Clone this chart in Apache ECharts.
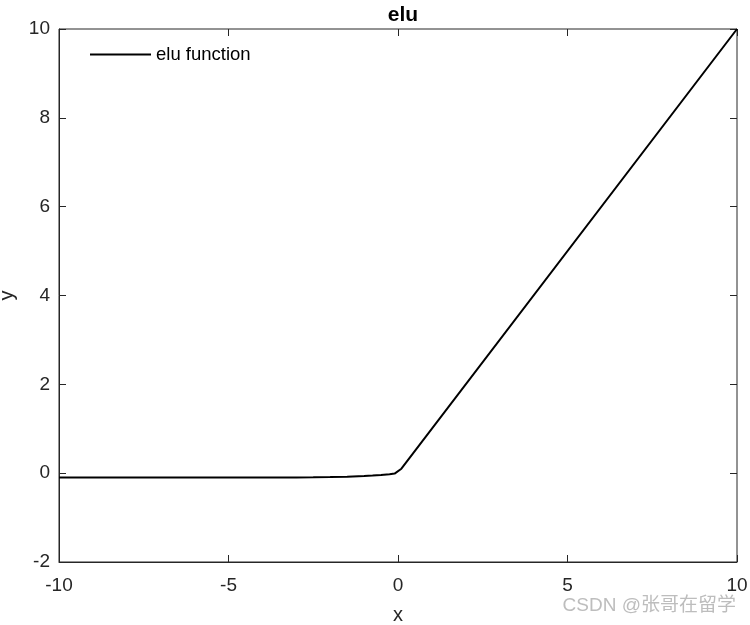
<!DOCTYPE html>
<html>
<head>
<meta charset="utf-8">
<script src="https://cdn.jsdelivr.net/npm/echarts@6/dist/echarts.min.js"></script>
<style>html,body{margin:0;padding:0;background:#fff}#c{width:750px;height:625px}</style>
</head>
<body>
<div id="c"></div>
<script>
var xValues = [-10, -9, -8, -7, -6, -5, -4, -3, -2.5, -2, -1.5, -1, -0.75, -0.5, -0.25, -0.1, 0.1, 10];
var yValues = [-0.1, -0.1, -0.1, -0.1, -0.1, -0.099, -0.098, -0.095, -0.092, -0.086, -0.078, -0.063, -0.053, -0.039, -0.022, -0.0095, 0.1, 10];
var seriesName = 'elu function';
var titleText = 'elu';
var xLabel = 'x';
var yLabel = 'y';
var watermark = 'CSDN @张哥在留学';

var pts = xValues.map(function (x, i) { return [x, yValues[i]]; });
var font = 'Liberation Sans, Arial, sans-serif';
var axCol = '#262626';
var chart = echarts.init(document.getElementById('c'));
chart.setOption({
  animation: false,
  backgroundColor: '#fff',
  title: { text: titleText, left: 398, top: 0, textAlign: 'center',
    textStyle: { fontFamily: font, fontSize: 21, fontWeight: 'bold', color: '#000' } },
  legend: { left: 85, top: 40, icon: 'rect', itemWidth: 61, itemHeight: 2, itemGap: 6,
    textStyle: { fontFamily: font, fontSize: 18.5, color: '#000' },
    data: [seriesName] },
  grid: { left: 59, right: 13, top: 29, bottom: 63, show: true, borderColor: axCol, borderWidth: 1,
    containLabel: false, outerBoundsMode: 'none' },
  xAxis: [{
    type: 'value', min: -10, max: 10, interval: 5, position: 'bottom',
    name: xLabel, nameLocation: 'middle', nameGap: 43,
    nameTextStyle: { fontFamily: font, fontSize: 20, color: axCol },
    axisLine: { show: true, onZero: false, lineStyle: { color: axCol } },
    axisTick: { show: true, inside: true, length: 7, lineStyle: { color: axCol } },
    axisLabel: { fontFamily: font, fontSize: 19, color: axCol, margin: 14 },
    splitLine: { show: false }
  }, {
    type: 'value', min: -10, max: 10, interval: 5, position: 'top',
    axisLine: { show: false, onZero: false },
    axisTick: { show: true, inside: true, length: 7, lineStyle: { color: axCol } },
    axisLabel: { show: false }, splitLine: { show: false }
  }],
  yAxis: [{
    type: 'value', min: -2, max: 10, interval: 2, position: 'left',
    name: yLabel, nameLocation: 'middle', nameGap: 34,
    nameTextStyle: { fontFamily: font, fontSize: 20, color: axCol },
    axisLine: { show: true, onZero: false, lineStyle: { color: axCol } },
    axisTick: { show: true, inside: true, length: 7, lineStyle: { color: axCol } },
    axisLabel: { fontFamily: font, fontSize: 19, color: axCol, margin: 9 },
    splitLine: { show: false }
  }, {
    type: 'value', min: -2, max: 10, interval: 2, position: 'right',
    axisLine: { show: false, onZero: false },
    axisTick: { show: true, inside: true, length: 7, lineStyle: { color: axCol } },
    axisLabel: { show: false }, splitLine: { show: false }
  }],
  series: [{
    name: seriesName, type: 'line', data: pts, showSymbol: false, smooth: false,
    xAxisIndex: 0, yAxisIndex: 0,
    lineStyle: { color: '#000', width: 2 }, itemStyle: { color: '#000' }
  }],
  graphic: [{
    type: 'text', right: 14, top: 596,
    style: { text: watermark, fontFamily: 'Liberation Sans, Noto Sans CJK SC, sans-serif', fontSize: 19, fill: '#bdbdbd' }
  }]
});
</script>
</body>
</html>
